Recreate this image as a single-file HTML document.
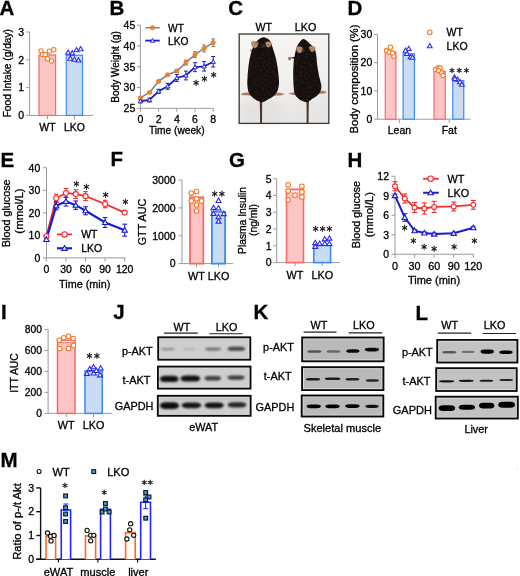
<!DOCTYPE html><html><head><meta charset="utf-8"><title>Figure</title><style>html,body{margin:0;padding:0;background:#fff;}svg{display:block;} text{stroke:#000;stroke-width:0.3px;}</style></head><body>
<svg width="520" height="576" viewBox="0 0 520 576" font-family='"Liberation Sans", Arial, sans-serif'>
<defs><filter id="bl" x="-20%" y="-80%" width="140%" height="260%"><feGaussianBlur stdDeviation="1.0"/></filter><filter id="bl2" x="-20%" y="-80%" width="140%" height="260%"><feGaussianBlur stdDeviation="0.7"/></filter><filter id="fur" x="0" y="0" width="100%" height="100%" color-interpolation-filters="sRGB"><feTurbulence type="fractalNoise" baseFrequency="0.45" numOctaves="2" seed="7" result="n"/><feColorMatrix in="n" type="matrix" values="0 0 0 0 0.2  0 0 0 0 0.15  0 0 0 0 0.13  1.5 0 0 0 -0.75" result="c"/><feComposite in="c" in2="SourceAlpha" operator="in"/></filter><filter id="ms" x="-10%" y="-10%" width="120%" height="120%"><feGaussianBlur stdDeviation="0.6"/></filter><filter id="sh" x="-20%" y="-20%" width="140%" height="140%"><feGaussianBlur stdDeviation="3"/></filter><linearGradient id="bg" x1="0" y1="0" x2="0.3" y2="1"><stop offset="0" stop-color="#f8f7f5"/><stop offset="0.6" stop-color="#f1f0ee"/><stop offset="1" stop-color="#e7e6e4"/></linearGradient></defs>
<rect width="520" height="576" fill="#fff"/>
<text x="-0.5" y="14.5" font-size="20.5" text-anchor="start" font-weight="bold" fill="#000" >A</text>
<line x1="29.6" y1="32" x2="29.6" y2="115.4" stroke="#9a9a9a" stroke-width="1" />
<line x1="26.1" y1="115.4" x2="29.6" y2="115.4" stroke="#9a9a9a" stroke-width="1" />
<text x="24" y="119.18" font-size="10.5" text-anchor="end" font-weight="normal" fill="#000" >0</text>
<line x1="26.1" y1="87.6" x2="29.6" y2="87.6" stroke="#9a9a9a" stroke-width="1" />
<text x="24" y="91.38" font-size="10.5" text-anchor="end" font-weight="normal" fill="#000" >1</text>
<line x1="26.1" y1="59.8" x2="29.6" y2="59.8" stroke="#9a9a9a" stroke-width="1" />
<text x="24" y="63.58" font-size="10.5" text-anchor="end" font-weight="normal" fill="#000" >2</text>
<line x1="26.1" y1="32" x2="29.6" y2="32" stroke="#9a9a9a" stroke-width="1" />
<text x="24" y="35.78" font-size="10.5" text-anchor="end" font-weight="normal" fill="#000" >3</text>
<line x1="29.6" y1="115.4" x2="93" y2="115.4" stroke="#9a9a9a" stroke-width="1" />
<line x1="47.5" y1="115.4" x2="47.5" y2="119.3" stroke="#9a9a9a" stroke-width="1" />
<line x1="74.4" y1="115.4" x2="74.4" y2="119.3" stroke="#9a9a9a" stroke-width="1" />
<rect x="39" y="55" width="16.6" height="60.4" fill="#fdc6c6" stroke="#f56b6b" stroke-width="1.2"/>
<rect x="66.25" y="55.25" width="16.25" height="60.15" fill="#c9dcf4" stroke="#3a8cf2" stroke-width="1.2"/>
<circle cx="41" cy="51" r="2.2" fill="#fff" stroke="#f77b28" stroke-width="1.1"/>
<circle cx="42.5" cy="54.4" r="2.2" fill="#fff" stroke="#f77b28" stroke-width="1.1"/>
<circle cx="45.25" cy="54.4" r="2.2" fill="#fff" stroke="#f77b28" stroke-width="1.1"/>
<circle cx="49.4" cy="51.25" r="2.2" fill="#fff" stroke="#f77b28" stroke-width="1.1"/>
<circle cx="53.75" cy="49.75" r="2.2" fill="#fff" stroke="#f77b28" stroke-width="1.1"/>
<circle cx="47.5" cy="58.75" r="2.2" fill="#fff" stroke="#f77b28" stroke-width="1.1"/>
<circle cx="51.5" cy="61" r="2.2" fill="#fff" stroke="#f77b28" stroke-width="1.1"/>
<polygon points="68.1,50.1 70.5,54.3 65.7,54.3" fill="#fff" stroke="#2b2bf0" stroke-width="1.1" stroke-linejoin="miter"/>
<polygon points="72.25,50.7 74.65,54.9 69.85,54.9" fill="#fff" stroke="#2b2bf0" stroke-width="1.1" stroke-linejoin="miter"/>
<polygon points="76.5,47.6 78.9,51.8 74.1,51.8" fill="#fff" stroke="#2b2bf0" stroke-width="1.1" stroke-linejoin="miter"/>
<polygon points="80.6,46.6 83,50.8 78.2,50.8" fill="#fff" stroke="#2b2bf0" stroke-width="1.1" stroke-linejoin="miter"/>
<polygon points="70.25,56.1 72.65,60.3 67.85,60.3" fill="#fff" stroke="#2b2bf0" stroke-width="1.1" stroke-linejoin="miter"/>
<polygon points="74.4,57 76.8,61.2 72,61.2" fill="#fff" stroke="#2b2bf0" stroke-width="1.1" stroke-linejoin="miter"/>
<polygon points="78.5,57.85 80.9,62.05 76.1,62.05" fill="#fff" stroke="#2b2bf0" stroke-width="1.1" stroke-linejoin="miter"/>
<text x="47.5" y="130.75" font-size="10.5" text-anchor="middle" font-weight="normal" fill="#000" >WT</text>
<text x="74.4" y="130.75" font-size="10.5" text-anchor="middle" font-weight="normal" fill="#000" >LKO</text>
<text transform="translate(10.5,73.2) rotate(-90)" font-size="10.2" text-anchor="middle" fill="#000">Food Intake (g/day)</text>
<text x="109.4" y="14.5" font-size="20.5" text-anchor="start" font-weight="bold" fill="#000" >B</text>
<line x1="140.4" y1="25.2" x2="140.4" y2="108.3" stroke="#9a9a9a" stroke-width="1" />
<line x1="136.9" y1="108.3" x2="140.4" y2="108.3" stroke="#9a9a9a" stroke-width="1" />
<text x="135.3" y="112.08" font-size="10.5" text-anchor="end" font-weight="normal" fill="#000" >25</text>
<line x1="136.9" y1="87.52" x2="140.4" y2="87.52" stroke="#9a9a9a" stroke-width="1" />
<text x="135.3" y="91.3" font-size="10.5" text-anchor="end" font-weight="normal" fill="#000" >30</text>
<line x1="136.9" y1="66.75" x2="140.4" y2="66.75" stroke="#9a9a9a" stroke-width="1" />
<text x="135.3" y="70.53" font-size="10.5" text-anchor="end" font-weight="normal" fill="#000" >35</text>
<line x1="136.9" y1="45.97" x2="140.4" y2="45.97" stroke="#9a9a9a" stroke-width="1" />
<text x="135.3" y="49.75" font-size="10.5" text-anchor="end" font-weight="normal" fill="#000" >40</text>
<line x1="136.9" y1="25.2" x2="140.4" y2="25.2" stroke="#9a9a9a" stroke-width="1" />
<text x="135.3" y="28.98" font-size="10.5" text-anchor="end" font-weight="normal" fill="#000" >45</text>
<line x1="140.4" y1="108.3" x2="213.4" y2="108.3" stroke="#9a9a9a" stroke-width="1" />
<line x1="140.4" y1="108.3" x2="140.4" y2="111.8" stroke="#9a9a9a" stroke-width="1" />
<text x="140.4" y="122.6" font-size="10.5" text-anchor="middle" font-weight="normal" fill="#000" >0</text>
<line x1="158.6" y1="108.3" x2="158.6" y2="111.8" stroke="#9a9a9a" stroke-width="1" />
<text x="158.6" y="122.6" font-size="10.5" text-anchor="middle" font-weight="normal" fill="#000" >2</text>
<line x1="176.8" y1="108.3" x2="176.8" y2="111.8" stroke="#9a9a9a" stroke-width="1" />
<text x="176.8" y="122.6" font-size="10.5" text-anchor="middle" font-weight="normal" fill="#000" >4</text>
<line x1="195" y1="108.3" x2="195" y2="111.8" stroke="#9a9a9a" stroke-width="1" />
<text x="195" y="122.6" font-size="10.5" text-anchor="middle" font-weight="normal" fill="#000" >6</text>
<line x1="213.2" y1="108.3" x2="213.2" y2="111.8" stroke="#9a9a9a" stroke-width="1" />
<text x="213.2" y="122.6" font-size="10.5" text-anchor="middle" font-weight="normal" fill="#000" >8</text>
<text x="176.8" y="134.1" font-size="10.2" text-anchor="middle" font-weight="normal" fill="#000" >Time (week)</text>
<text transform="translate(119.4,66.9) rotate(-90)" font-size="10" text-anchor="middle" fill="#000">Body Weight (g)</text>
<line x1="140.4" y1="97.41" x2="140.4" y2="98.41" stroke="#808080" stroke-width="1" />
<line x1="138.4" y1="97.41" x2="142.4" y2="97.41" stroke="#808080" stroke-width="1" />
<line x1="138.4" y1="98.41" x2="142.4" y2="98.41" stroke="#808080" stroke-width="1" />
<line x1="149.5" y1="92.01" x2="149.5" y2="93.01" stroke="#808080" stroke-width="1" />
<line x1="147.5" y1="92.01" x2="151.5" y2="92.01" stroke="#808080" stroke-width="1" />
<line x1="147.5" y1="93.01" x2="151.5" y2="93.01" stroke="#808080" stroke-width="1" />
<line x1="158.6" y1="80.29" x2="158.6" y2="82.29" stroke="#808080" stroke-width="1" />
<line x1="156.6" y1="80.29" x2="160.6" y2="80.29" stroke="#808080" stroke-width="1" />
<line x1="156.6" y1="82.29" x2="160.6" y2="82.29" stroke="#808080" stroke-width="1" />
<line x1="167.7" y1="73.77" x2="167.7" y2="75.77" stroke="#808080" stroke-width="1" />
<line x1="165.7" y1="73.77" x2="169.7" y2="73.77" stroke="#808080" stroke-width="1" />
<line x1="165.7" y1="75.77" x2="169.7" y2="75.77" stroke="#808080" stroke-width="1" />
<line x1="176.8" y1="69.49" x2="176.8" y2="72.49" stroke="#808080" stroke-width="1" />
<line x1="174.8" y1="69.49" x2="178.8" y2="69.49" stroke="#808080" stroke-width="1" />
<line x1="174.8" y1="72.49" x2="178.8" y2="72.49" stroke="#808080" stroke-width="1" />
<line x1="185.9" y1="60.09" x2="185.9" y2="65.09" stroke="#808080" stroke-width="1" />
<line x1="183.9" y1="60.09" x2="187.9" y2="60.09" stroke="#808080" stroke-width="1" />
<line x1="183.9" y1="65.09" x2="187.9" y2="65.09" stroke="#808080" stroke-width="1" />
<line x1="195" y1="51.7" x2="195" y2="57.7" stroke="#808080" stroke-width="1" />
<line x1="193" y1="51.7" x2="197" y2="51.7" stroke="#808080" stroke-width="1" />
<line x1="193" y1="57.7" x2="197" y2="57.7" stroke="#808080" stroke-width="1" />
<line x1="204.1" y1="44.97" x2="204.1" y2="51.97" stroke="#808080" stroke-width="1" />
<line x1="202.1" y1="44.97" x2="206.1" y2="44.97" stroke="#808080" stroke-width="1" />
<line x1="202.1" y1="51.97" x2="206.1" y2="51.97" stroke="#808080" stroke-width="1" />
<line x1="213.2" y1="38.9" x2="213.2" y2="46.4" stroke="#808080" stroke-width="1" />
<line x1="211.2" y1="38.9" x2="215.2" y2="38.9" stroke="#808080" stroke-width="1" />
<line x1="211.2" y1="46.4" x2="215.2" y2="46.4" stroke="#808080" stroke-width="1" />
<polyline points="140.4,97.91 149.5,92.51 158.6,81.29 167.7,74.77 176.8,70.99 185.9,62.59 195,54.7 204.1,48.47 213.2,42.65" fill="none" stroke="#808080" stroke-width="1.5"/>
<line x1="140.4" y1="99.74" x2="140.4" y2="102.74" stroke="#1c1cc8" stroke-width="1" />
<line x1="138.4" y1="99.74" x2="142.4" y2="99.74" stroke="#1c1cc8" stroke-width="1" />
<line x1="138.4" y1="102.74" x2="142.4" y2="102.74" stroke="#1c1cc8" stroke-width="1" />
<line x1="149.5" y1="97.99" x2="149.5" y2="101.99" stroke="#1c1cc8" stroke-width="1" />
<line x1="147.5" y1="97.99" x2="151.5" y2="97.99" stroke="#1c1cc8" stroke-width="1" />
<line x1="147.5" y1="101.99" x2="151.5" y2="101.99" stroke="#1c1cc8" stroke-width="1" />
<line x1="158.6" y1="89.26" x2="158.6" y2="93.26" stroke="#1c1cc8" stroke-width="1" />
<line x1="156.6" y1="89.26" x2="160.6" y2="89.26" stroke="#1c1cc8" stroke-width="1" />
<line x1="156.6" y1="93.26" x2="160.6" y2="93.26" stroke="#1c1cc8" stroke-width="1" />
<line x1="167.7" y1="83.28" x2="167.7" y2="89.28" stroke="#1c1cc8" stroke-width="1" />
<line x1="165.7" y1="83.28" x2="169.7" y2="83.28" stroke="#1c1cc8" stroke-width="1" />
<line x1="165.7" y1="89.28" x2="169.7" y2="89.28" stroke="#1c1cc8" stroke-width="1" />
<line x1="176.8" y1="74.47" x2="176.8" y2="81.47" stroke="#1c1cc8" stroke-width="1" />
<line x1="174.8" y1="74.47" x2="178.8" y2="74.47" stroke="#1c1cc8" stroke-width="1" />
<line x1="174.8" y1="81.47" x2="178.8" y2="81.47" stroke="#1c1cc8" stroke-width="1" />
<line x1="185.9" y1="71.08" x2="185.9" y2="79.88" stroke="#1c1cc8" stroke-width="1" />
<line x1="183.9" y1="71.08" x2="187.9" y2="71.08" stroke="#1c1cc8" stroke-width="1" />
<line x1="183.9" y1="79.88" x2="187.9" y2="79.88" stroke="#1c1cc8" stroke-width="1" />
<line x1="195" y1="62.67" x2="195" y2="71.67" stroke="#1c1cc8" stroke-width="1" />
<line x1="193" y1="62.67" x2="197" y2="62.67" stroke="#1c1cc8" stroke-width="1" />
<line x1="193" y1="71.67" x2="197" y2="71.67" stroke="#1c1cc8" stroke-width="1" />
<line x1="204.1" y1="61.63" x2="204.1" y2="71.03" stroke="#1c1cc8" stroke-width="1" />
<line x1="202.1" y1="61.63" x2="206.1" y2="61.63" stroke="#1c1cc8" stroke-width="1" />
<line x1="202.1" y1="71.03" x2="206.1" y2="71.03" stroke="#1c1cc8" stroke-width="1" />
<line x1="213.2" y1="56.51" x2="213.2" y2="67.01" stroke="#1c1cc8" stroke-width="1" />
<line x1="211.2" y1="56.51" x2="215.2" y2="56.51" stroke="#1c1cc8" stroke-width="1" />
<line x1="211.2" y1="67.01" x2="215.2" y2="67.01" stroke="#1c1cc8" stroke-width="1" />
<polyline points="140.4,101.24 149.5,99.99 158.6,91.26 167.7,86.28 176.8,77.97 185.9,75.48 195,67.17 204.1,66.33 213.2,61.76" fill="none" stroke="#1c1cc8" stroke-width="1.8"/>
<circle cx="140.4" cy="97.91" r="2.1" fill="#f58220" stroke="#e07010" stroke-width="0.6"/>
<circle cx="149.5" cy="92.51" r="2.1" fill="#f58220" stroke="#e07010" stroke-width="0.6"/>
<circle cx="158.6" cy="81.29" r="2.1" fill="#f58220" stroke="#e07010" stroke-width="0.6"/>
<circle cx="167.7" cy="74.77" r="2.1" fill="#f58220" stroke="#e07010" stroke-width="0.6"/>
<circle cx="176.8" cy="70.99" r="2.1" fill="#f58220" stroke="#e07010" stroke-width="0.6"/>
<circle cx="185.9" cy="62.59" r="2.1" fill="#f58220" stroke="#e07010" stroke-width="0.6"/>
<circle cx="195" cy="54.7" r="2.1" fill="#f58220" stroke="#e07010" stroke-width="0.6"/>
<circle cx="204.1" cy="48.47" r="2.1" fill="#f58220" stroke="#e07010" stroke-width="0.6"/>
<circle cx="213.2" cy="42.65" r="2.1" fill="#f58220" stroke="#e07010" stroke-width="0.6"/>
<polygon points="140.4,99.04 142.6,102.89 138.2,102.89" fill="#d8ecff" stroke="#1c1cc8" stroke-width="0.9" stroke-linejoin="miter"/>
<polygon points="149.5,97.79 151.7,101.64 147.3,101.64" fill="#d8ecff" stroke="#1c1cc8" stroke-width="0.9" stroke-linejoin="miter"/>
<polygon points="158.6,89.06 160.8,92.91 156.4,92.91" fill="#d8ecff" stroke="#1c1cc8" stroke-width="0.9" stroke-linejoin="miter"/>
<polygon points="167.7,84.08 169.9,87.93 165.5,87.93" fill="#d8ecff" stroke="#1c1cc8" stroke-width="0.9" stroke-linejoin="miter"/>
<polygon points="176.8,75.77 179,79.62 174.6,79.62" fill="#d8ecff" stroke="#1c1cc8" stroke-width="0.9" stroke-linejoin="miter"/>
<polygon points="185.9,73.28 188.1,77.13 183.7,77.13" fill="#d8ecff" stroke="#1c1cc8" stroke-width="0.9" stroke-linejoin="miter"/>
<polygon points="195,64.97 197.2,68.82 192.8,68.82" fill="#d8ecff" stroke="#1c1cc8" stroke-width="0.9" stroke-linejoin="miter"/>
<polygon points="204.1,64.13 206.3,67.98 201.9,67.98" fill="#d8ecff" stroke="#1c1cc8" stroke-width="0.9" stroke-linejoin="miter"/>
<polygon points="213.2,59.56 215.4,63.41 211,63.41" fill="#d8ecff" stroke="#1c1cc8" stroke-width="0.9" stroke-linejoin="miter"/>
<line x1="145.25" y1="27.75" x2="159.75" y2="27.75" stroke="#808080" stroke-width="1.5" />
<circle cx="152.5" cy="27.75" r="2.1" fill="#f58220" stroke="#e07010" stroke-width="0.6"/>
<line x1="145.25" y1="40.6" x2="159.75" y2="40.6" stroke="#1c1cc8" stroke-width="1.8" />
<polygon points="152.5,38.4 154.7,42.25 150.3,42.25" fill="#d8ecff" stroke="#1c1cc8" stroke-width="0.9" stroke-linejoin="miter"/>
<text x="168.1" y="31.6" font-size="10.2" text-anchor="start" font-weight="normal" fill="#000" >WT</text>
<text x="168.1" y="44.6" font-size="10.2" text-anchor="start" font-weight="normal" fill="#000" >LKO</text>
<text x="196.06" y="88.53" font-size="11.6" text-anchor="middle" font-family="DejaVu Sans, sans-serif" fill="#1a1a1a">*</text>
<text x="204.46" y="85.03" font-size="11.6" text-anchor="middle" font-family="DejaVu Sans, sans-serif" fill="#1a1a1a">*</text>
<text x="213.56" y="80.78" font-size="11.6" text-anchor="middle" font-family="DejaVu Sans, sans-serif" fill="#1a1a1a">*</text>
<text x="228.3" y="14.5" font-size="20.5" text-anchor="start" font-weight="bold" fill="#000" >C</text>
<text x="263.7" y="30.9" font-size="10.6" text-anchor="middle" font-weight="normal" fill="#000" >WT</text>
<text x="305.65" y="30.9" font-size="10.8" text-anchor="middle" font-weight="normal" fill="#000" >LKO</text>
<g id="photo">
<rect x="238.6" y="33.4" width="90.7" height="90.5" fill="url(#bg)"/>
<rect x="240" y="100" width="40" height="24" fill="#dedcda" opacity="0.45" filter="url(#sh)"/>
<g filter="url(#ms)">
<path d="M259.7,100 C260,108 260.2,116 260.1,123.6 L262,123.6 C262.1,116 262.1,108 262.2,100 Z" fill="#4e3226"/>
<path d="M306.4,100 C306.7,108 306.8,116 306.6,123.6 L308.5,123.6 C308.6,116 308.7,108 308.9,100 Z" fill="#4e3226"/>
<path d="M250,92.6 C246.5,92.6 243,92.8 240.6,93.9 C242,95.2 245,95.5 248,95.3 L251,96 Z" fill="#a87c62"/>
<path d="M274,92.6 C277.5,92.6 281.5,92.8 284.4,93.9 C283,95.3 279.5,95.5 276.5,95.4 L273,96.2 Z" fill="#a87c62"/>
<path d="M296,92.2 C293.5,92.2 290.5,92.5 288.6,93.6 C290,94.9 292.5,95.1 295,95 L297,95.6 Z" fill="#a87c62"/>
<path d="M319,90.8 C321.5,90.6 324.5,90.8 326.8,91.9 C325.3,93.4 322.5,93.8 320,93.7 L318.5,94 Z" fill="#a87c62"/>
<ellipse cx="251.5" cy="50.6" rx="1.5" ry="1.4" fill="#a87c62" opacity="0.85"/>
<ellipse cx="289.7" cy="58.6" rx="1.8" ry="1.8" fill="#a87c62"/>
<path d="M290.5,57.6 L295,59.5 L295,56.8 Z" fill="#3a2a24"/>
<path d="M263.7,37.2 C265.07,37.1 266.12,37.95 267.2,38.6 C268.28,39.25 269.25,39.45 270.2,41.1 C271.15,42.75 271.98,45.73 272.9,48.5 C273.82,51.27 274.93,54.63 275.7,57.7 C276.47,60.77 276.98,63.52 277.5,66.9 C278.02,70.28 278.58,74.92 278.8,78 C279.02,81.08 279.1,83.1 278.8,85.4 C278.5,87.7 277.98,89.95 277,91.8 C276.02,93.65 274.5,95.17 272.9,96.5 C271.3,97.83 269.08,98.85 267.4,99.8 C265.72,100.75 264.33,101.98 262.8,102.2 C261.27,102.42 259.9,101.9 258.2,101.1 C256.5,100.3 254.15,98.78 252.6,97.4 C251.05,96.02 249.77,94.8 248.9,92.8 C248.03,90.8 247.62,88.17 247.4,85.4 C247.18,82.63 247.35,79.9 247.6,76.2 C247.85,72.5 248.37,66.9 248.9,63.2 C249.43,59.5 250.25,56.3 250.8,54 C251.35,51.7 251.58,51.1 252.2,49.4 C252.82,47.7 253.37,45.5 254.5,43.8 C255.63,42.1 257.47,40.3 259,39.2 C260.53,38.1 262.33,37.3 263.7,37.2 Z" fill="#181110"/>
<path d="M303.4,39 C304.37,39.05 305.73,40 306.8,40.8 C307.87,41.6 308.52,42.52 309.8,43.8 C311.08,45.08 313.42,46.5 314.5,48.5 C315.58,50.5 315.85,53.03 316.3,55.8 C316.75,58.57 316.73,61.7 317.2,65.1 C317.67,68.5 318.42,72.82 319.1,76.2 C319.78,79.58 321.07,82.95 321.3,85.4 C321.53,87.85 321.18,89.22 320.5,90.9 C319.82,92.58 318.67,94.12 317.2,95.5 C315.73,96.88 313.38,98.08 311.7,99.2 C310.02,100.32 308.63,101.88 307.1,102.2 C305.57,102.52 304.05,101.82 302.5,101.1 C300.95,100.38 299.1,99.13 297.8,97.9 C296.5,96.67 295.4,95.78 294.7,93.7 C294,91.62 293.85,88.63 293.6,85.4 C293.35,82.17 293.2,78 293.2,74.3 C293.2,70.6 293.35,66.28 293.6,63.2 C293.85,60.12 294.3,58.1 294.7,55.8 C295.1,53.5 295.38,51.4 296,49.4 C296.62,47.4 297.57,45.28 298.4,43.8 C299.23,42.32 300.17,41.3 301,40.5 C301.83,39.7 302.43,38.95 303.4,39 Z" fill="#181110"/>
<path d="M250.8,42.5 C252,40.6 255.5,40.4 258.2,41.8 C258.8,44.2 257.6,47.4 255,48.4 C252.8,47.8 251,45.2 250.8,42.5 Z" fill="#b78d6a"/>
<path d="M265.5,42.4 C267.4,40.9 270.2,41.1 271.6,43 C271.8,45.3 270.4,47.4 268.2,47.6 C266.4,46.8 265.3,44.6 265.5,42.4 Z" fill="#b78d6a"/>
<path d="M296,47.8 C297.5,46 300.8,46 302.6,47.9 C302.9,50.3 301.6,52.8 299.4,53.2 C297.4,52.6 296,50.4 296,47.8 Z" fill="#b78d6a"/>
<path d="M308.9,47.2 C310.6,45.6 313.6,45.7 315.4,47.4 C315.6,49.6 314.2,51.6 312,51.9 C310.2,51.3 308.9,49.4 308.9,47.2 Z" fill="#b78d6a"/>
<path d="M263.7,37.2 C265.07,37.1 266.12,37.95 267.2,38.6 C268.28,39.25 269.25,39.45 270.2,41.1 C271.15,42.75 271.98,45.73 272.9,48.5 C273.82,51.27 274.93,54.63 275.7,57.7 C276.47,60.77 276.98,63.52 277.5,66.9 C278.02,70.28 278.58,74.92 278.8,78 C279.02,81.08 279.1,83.1 278.8,85.4 C278.5,87.7 277.98,89.95 277,91.8 C276.02,93.65 274.5,95.17 272.9,96.5 C271.3,97.83 269.08,98.85 267.4,99.8 C265.72,100.75 264.33,101.98 262.8,102.2 C261.27,102.42 259.9,101.9 258.2,101.1 C256.5,100.3 254.15,98.78 252.6,97.4 C251.05,96.02 249.77,94.8 248.9,92.8 C248.03,90.8 247.62,88.17 247.4,85.4 C247.18,82.63 247.35,79.9 247.6,76.2 C247.85,72.5 248.37,66.9 248.9,63.2 C249.43,59.5 250.25,56.3 250.8,54 C251.35,51.7 251.58,51.1 252.2,49.4 C252.82,47.7 253.37,45.5 254.5,43.8 C255.63,42.1 257.47,40.3 259,39.2 C260.53,38.1 262.33,37.3 263.7,37.2 Z" fill="#000" filter="url(#fur)"/>
<path d="M303.4,39 C304.37,39.05 305.73,40 306.8,40.8 C307.87,41.6 308.52,42.52 309.8,43.8 C311.08,45.08 313.42,46.5 314.5,48.5 C315.58,50.5 315.85,53.03 316.3,55.8 C316.75,58.57 316.73,61.7 317.2,65.1 C317.67,68.5 318.42,72.82 319.1,76.2 C319.78,79.58 321.07,82.95 321.3,85.4 C321.53,87.85 321.18,89.22 320.5,90.9 C319.82,92.58 318.67,94.12 317.2,95.5 C315.73,96.88 313.38,98.08 311.7,99.2 C310.02,100.32 308.63,101.88 307.1,102.2 C305.57,102.52 304.05,101.82 302.5,101.1 C300.95,100.38 299.1,99.13 297.8,97.9 C296.5,96.67 295.4,95.78 294.7,93.7 C294,91.62 293.85,88.63 293.6,85.4 C293.35,82.17 293.2,78 293.2,74.3 C293.2,70.6 293.35,66.28 293.6,63.2 C293.85,60.12 294.3,58.1 294.7,55.8 C295.1,53.5 295.38,51.4 296,49.4 C296.62,47.4 297.57,45.28 298.4,43.8 C299.23,42.32 300.17,41.3 301,40.5 C301.83,39.7 302.43,38.95 303.4,39 Z" fill="#000" filter="url(#fur)"/>
<ellipse cx="263" cy="46" rx="2.2" ry="1.8" fill="#6a5a54" opacity="0.4"/>
<ellipse cx="303" cy="50.5" rx="1.8" ry="1.5" fill="#6a5a54" opacity="0.4"/>
</g>
<rect x="239.2" y="34.0" width="89.6" height="89.4" fill="none" stroke="#383838" stroke-width="1.3"/>
</g>
<text x="347.4" y="14.5" font-size="20.5" text-anchor="start" font-weight="bold" fill="#000" >D</text>
<line x1="377.5" y1="34.45" x2="377.5" y2="119.2" stroke="#9a9a9a" stroke-width="1" />
<line x1="374" y1="119.2" x2="377.5" y2="119.2" stroke="#9a9a9a" stroke-width="1" />
<text x="372.3" y="122.98" font-size="10.5" text-anchor="end" font-weight="normal" fill="#000" >0</text>
<line x1="374" y1="90.95" x2="377.5" y2="90.95" stroke="#9a9a9a" stroke-width="1" />
<text x="372.3" y="94.73" font-size="10.5" text-anchor="end" font-weight="normal" fill="#000" >10</text>
<line x1="374" y1="62.7" x2="377.5" y2="62.7" stroke="#9a9a9a" stroke-width="1" />
<text x="372.3" y="66.48" font-size="10.5" text-anchor="end" font-weight="normal" fill="#000" >20</text>
<line x1="374" y1="34.45" x2="377.5" y2="34.45" stroke="#9a9a9a" stroke-width="1" />
<text x="372.3" y="38.23" font-size="10.5" text-anchor="end" font-weight="normal" fill="#000" >30</text>
<line x1="377.5" y1="119.2" x2="470.5" y2="119.2" stroke="#9a9a9a" stroke-width="1" />
<line x1="399.4" y1="119.2" x2="399.4" y2="123" stroke="#9a9a9a" stroke-width="1" />
<line x1="449.25" y1="119.2" x2="449.25" y2="123" stroke="#9a9a9a" stroke-width="1" />
<text x="399.4" y="134.1" font-size="10.5" text-anchor="middle" font-weight="normal" fill="#000" >Lean</text>
<text x="449.25" y="134.1" font-size="10.5" text-anchor="middle" font-weight="normal" fill="#000" >Fat</text>
<rect x="385.25" y="51.9" width="10.65" height="67.3" fill="#fdc6c6" stroke="#f56b6b" stroke-width="1.2"/>
<rect x="403.1" y="53.75" width="11.3" height="65.45" fill="#c9dcf4" stroke="#3a8cf2" stroke-width="1.2"/>
<rect x="434" y="71.25" width="11.25" height="47.95" fill="#fdc6c6" stroke="#f56b6b" stroke-width="1.2"/>
<rect x="452.75" y="80.6" width="11" height="38.6" fill="#c9dcf4" stroke="#3a8cf2" stroke-width="1.2"/>
<circle cx="386.5" cy="50.6" r="2.2" fill="#fff" stroke="#f77b28" stroke-width="1.1"/>
<circle cx="390.4" cy="47.25" r="2.2" fill="#fff" stroke="#f77b28" stroke-width="1.1"/>
<circle cx="389.4" cy="52.25" r="2.2" fill="#fff" stroke="#f77b28" stroke-width="1.1"/>
<circle cx="393.75" cy="56.25" r="2.2" fill="#fff" stroke="#f77b28" stroke-width="1.1"/>
<circle cx="392.5" cy="53.1" r="2.2" fill="#fff" stroke="#f77b28" stroke-width="1.1"/>
<polygon points="408.75,46.35 411.15,50.55 406.35,50.55" fill="#fff" stroke="#2b2bf0" stroke-width="1.1" stroke-linejoin="miter"/>
<polygon points="406.9,51.35 409.3,55.55 404.5,55.55" fill="#fff" stroke="#2b2bf0" stroke-width="1.1" stroke-linejoin="miter"/>
<polygon points="410.6,54.5 413,58.7 408.2,58.7" fill="#fff" stroke="#2b2bf0" stroke-width="1.1" stroke-linejoin="miter"/>
<polygon points="412.5,55.1 414.9,59.3 410.1,59.3" fill="#fff" stroke="#2b2bf0" stroke-width="1.1" stroke-linejoin="miter"/>
<polygon points="405.5,48.1 407.9,52.3 403.1,52.3" fill="#fff" stroke="#2b2bf0" stroke-width="1.1" stroke-linejoin="miter"/>
<circle cx="435.6" cy="69.4" r="2.2" fill="#fff" stroke="#f77b28" stroke-width="1.1"/>
<circle cx="438.1" cy="68.1" r="2.2" fill="#fff" stroke="#f77b28" stroke-width="1.1"/>
<circle cx="440" cy="68.1" r="2.2" fill="#fff" stroke="#f77b28" stroke-width="1.1"/>
<circle cx="441.25" cy="72.5" r="2.2" fill="#fff" stroke="#f77b28" stroke-width="1.1"/>
<circle cx="443.1" cy="75.6" r="2.2" fill="#fff" stroke="#f77b28" stroke-width="1.1"/>
<circle cx="438.5" cy="70.6" r="2.2" fill="#fff" stroke="#f77b28" stroke-width="1.1"/>
<polygon points="454.4,74.85 456.8,79.05 452,79.05" fill="#fff" stroke="#2b2bf0" stroke-width="1.1" stroke-linejoin="miter"/>
<polygon points="457.5,77 459.9,81.2 455.1,81.2" fill="#fff" stroke="#2b2bf0" stroke-width="1.1" stroke-linejoin="miter"/>
<polygon points="460,79.5 462.4,83.7 457.6,83.7" fill="#fff" stroke="#2b2bf0" stroke-width="1.1" stroke-linejoin="miter"/>
<polygon points="461.9,82 464.3,86.2 459.5,86.2" fill="#fff" stroke="#2b2bf0" stroke-width="1.1" stroke-linejoin="miter"/>
<polygon points="455,76.35 457.4,80.55 452.6,80.55" fill="#fff" stroke="#2b2bf0" stroke-width="1.1" stroke-linejoin="miter"/>
<circle cx="429.75" cy="32.25" r="2.3" fill="#fff" stroke="#f77b28" stroke-width="1.1"/>
<polygon points="429.75,43.6 432.15,47.8 427.35,47.8" fill="#fff" stroke="#2b2bf0" stroke-width="1.1" stroke-linejoin="miter"/>
<text x="446.6" y="36.3" font-size="10.5" text-anchor="start" font-weight="normal" fill="#000" >WT</text>
<text x="446.6" y="49.8" font-size="10.5" text-anchor="start" font-weight="normal" fill="#000" >LKO</text>
<text x="451.85" y="75.62" font-size="10.8" text-anchor="middle" font-family="DejaVu Sans, sans-serif" fill="#1a1a1a">*</text>
<text x="459.15" y="75.62" font-size="10.8" text-anchor="middle" font-family="DejaVu Sans, sans-serif" fill="#1a1a1a">*</text>
<text x="466.45" y="75.62" font-size="10.8" text-anchor="middle" font-family="DejaVu Sans, sans-serif" fill="#1a1a1a">*</text>
<text transform="translate(357.8,79) rotate(-90)" font-size="11.2" text-anchor="middle" fill="#000">Body composition (%)</text>
<text x="0.45" y="166.5" font-size="20.5" text-anchor="start" font-weight="bold" fill="#000" >E</text>
<line x1="46.5" y1="167.74" x2="46.5" y2="257.9" stroke="#9a9a9a" stroke-width="1" />
<line x1="43" y1="257.9" x2="46.5" y2="257.9" stroke="#9a9a9a" stroke-width="1" />
<text x="40.3" y="261.68" font-size="10.5" text-anchor="end" font-weight="normal" fill="#000" >0</text>
<line x1="43" y1="235.36" x2="46.5" y2="235.36" stroke="#9a9a9a" stroke-width="1" />
<text x="40.3" y="239.14" font-size="10.5" text-anchor="end" font-weight="normal" fill="#000" >10</text>
<line x1="43" y1="212.82" x2="46.5" y2="212.82" stroke="#9a9a9a" stroke-width="1" />
<text x="40.3" y="216.6" font-size="10.5" text-anchor="end" font-weight="normal" fill="#000" >20</text>
<line x1="43" y1="190.28" x2="46.5" y2="190.28" stroke="#9a9a9a" stroke-width="1" />
<text x="40.3" y="194.06" font-size="10.5" text-anchor="end" font-weight="normal" fill="#000" >30</text>
<line x1="43" y1="167.74" x2="46.5" y2="167.74" stroke="#9a9a9a" stroke-width="1" />
<text x="40.3" y="171.52" font-size="10.5" text-anchor="end" font-weight="normal" fill="#000" >40</text>
<line x1="46.5" y1="257.9" x2="125.5" y2="257.9" stroke="#9a9a9a" stroke-width="1" />
<line x1="46.4" y1="257.9" x2="46.4" y2="261.5" stroke="#9a9a9a" stroke-width="1" />
<text x="46.4" y="273.3" font-size="10.5" text-anchor="middle" font-weight="normal" fill="#000" >0</text>
<line x1="65.97" y1="257.9" x2="65.97" y2="261.5" stroke="#9a9a9a" stroke-width="1" />
<text x="65.97" y="273.3" font-size="10.5" text-anchor="middle" font-weight="normal" fill="#000" >30</text>
<line x1="85.55" y1="257.9" x2="85.55" y2="261.5" stroke="#9a9a9a" stroke-width="1" />
<text x="85.55" y="273.3" font-size="10.5" text-anchor="middle" font-weight="normal" fill="#000" >60</text>
<line x1="105.12" y1="257.9" x2="105.12" y2="261.5" stroke="#9a9a9a" stroke-width="1" />
<text x="105.12" y="273.3" font-size="10.5" text-anchor="middle" font-weight="normal" fill="#000" >90</text>
<line x1="124.7" y1="257.9" x2="124.7" y2="261.5" stroke="#9a9a9a" stroke-width="1" />
<text x="124.7" y="273.3" font-size="10.5" text-anchor="middle" font-weight="normal" fill="#000" >120</text>
<text x="84.7" y="287.6" font-size="10.8" text-anchor="middle" font-weight="normal" fill="#000" >Time (min)</text>
<text transform="translate(10.1,213.3) rotate(-90)" font-size="10.8" text-anchor="middle" fill="#000">Blood glucose</text>
<text transform="translate(22.8,211) rotate(-90)" font-size="11.5" text-anchor="middle" fill="#000">(mmol/L)</text>
<line x1="56.19" y1="194.28" x2="56.19" y2="202.28" stroke="#f52c2c" stroke-width="1.1" />
<line x1="53.89" y1="194.28" x2="58.49" y2="194.28" stroke="#f52c2c" stroke-width="1.1" />
<line x1="53.89" y1="202.28" x2="58.49" y2="202.28" stroke="#f52c2c" stroke-width="1.1" />
<line x1="65.97" y1="188.48" x2="65.97" y2="197.48" stroke="#f52c2c" stroke-width="1.1" />
<line x1="63.67" y1="188.48" x2="68.27" y2="188.48" stroke="#f52c2c" stroke-width="1.1" />
<line x1="63.67" y1="197.48" x2="68.27" y2="197.48" stroke="#f52c2c" stroke-width="1.1" />
<line x1="75.76" y1="189.71" x2="75.76" y2="198.51" stroke="#f52c2c" stroke-width="1.1" />
<line x1="73.46" y1="189.71" x2="78.06" y2="189.71" stroke="#f52c2c" stroke-width="1.1" />
<line x1="73.46" y1="198.51" x2="78.06" y2="198.51" stroke="#f52c2c" stroke-width="1.1" />
<line x1="85.55" y1="191.64" x2="85.55" y2="200.64" stroke="#f52c2c" stroke-width="1.1" />
<line x1="83.25" y1="191.64" x2="87.85" y2="191.64" stroke="#f52c2c" stroke-width="1.1" />
<line x1="83.25" y1="200.64" x2="87.85" y2="200.64" stroke="#f52c2c" stroke-width="1.1" />
<line x1="105.12" y1="200.28" x2="105.12" y2="207.78" stroke="#f52c2c" stroke-width="1.1" />
<line x1="102.83" y1="200.28" x2="107.42" y2="200.28" stroke="#f52c2c" stroke-width="1.1" />
<line x1="102.83" y1="207.78" x2="107.42" y2="207.78" stroke="#f52c2c" stroke-width="1.1" />
<line x1="124.7" y1="211.59" x2="124.7" y2="213.59" stroke="#f52c2c" stroke-width="1.1" />
<line x1="122.4" y1="211.59" x2="127" y2="211.59" stroke="#f52c2c" stroke-width="1.1" />
<line x1="122.4" y1="213.59" x2="127" y2="213.59" stroke="#f52c2c" stroke-width="1.1" />
<polyline points="46.4,236.26 56.19,198.28 65.97,192.98 75.76,194.11 85.55,196.14 105.12,204.03 124.7,212.59" fill="none" stroke="#f52c2c" stroke-width="1.8"/>
<line x1="46.4" y1="238.42" x2="46.4" y2="240.42" stroke="#1a1ad2" stroke-width="1.1" />
<line x1="44.1" y1="238.42" x2="48.7" y2="238.42" stroke="#1a1ad2" stroke-width="1.1" />
<line x1="44.1" y1="240.42" x2="48.7" y2="240.42" stroke="#1a1ad2" stroke-width="1.1" />
<line x1="56.19" y1="201.83" x2="56.19" y2="209.83" stroke="#1a1ad2" stroke-width="1.1" />
<line x1="53.89" y1="201.83" x2="58.49" y2="201.83" stroke="#1a1ad2" stroke-width="1.1" />
<line x1="53.89" y1="209.83" x2="58.49" y2="209.83" stroke="#1a1ad2" stroke-width="1.1" />
<line x1="65.97" y1="197.05" x2="65.97" y2="206.05" stroke="#1a1ad2" stroke-width="1.1" />
<line x1="63.67" y1="197.05" x2="68.27" y2="197.05" stroke="#1a1ad2" stroke-width="1.1" />
<line x1="63.67" y1="206.05" x2="68.27" y2="206.05" stroke="#1a1ad2" stroke-width="1.1" />
<line x1="75.76" y1="200.96" x2="75.76" y2="209.36" stroke="#1a1ad2" stroke-width="1.1" />
<line x1="73.46" y1="200.96" x2="78.06" y2="200.96" stroke="#1a1ad2" stroke-width="1.1" />
<line x1="73.46" y1="209.36" x2="78.06" y2="209.36" stroke="#1a1ad2" stroke-width="1.1" />
<line x1="85.55" y1="206.79" x2="85.55" y2="214.79" stroke="#1a1ad2" stroke-width="1.1" />
<line x1="83.25" y1="206.79" x2="87.85" y2="206.79" stroke="#1a1ad2" stroke-width="1.1" />
<line x1="83.25" y1="214.79" x2="87.85" y2="214.79" stroke="#1a1ad2" stroke-width="1.1" />
<line x1="105.12" y1="217.51" x2="105.12" y2="227.51" stroke="#1a1ad2" stroke-width="1.1" />
<line x1="102.83" y1="217.51" x2="107.42" y2="217.51" stroke="#1a1ad2" stroke-width="1.1" />
<line x1="102.83" y1="227.51" x2="107.42" y2="227.51" stroke="#1a1ad2" stroke-width="1.1" />
<line x1="124.7" y1="224.18" x2="124.7" y2="236.18" stroke="#1a1ad2" stroke-width="1.1" />
<line x1="122.4" y1="224.18" x2="127" y2="224.18" stroke="#1a1ad2" stroke-width="1.1" />
<line x1="122.4" y1="236.18" x2="127" y2="236.18" stroke="#1a1ad2" stroke-width="1.1" />
<polyline points="46.4,239.42 56.19,205.83 65.97,201.55 75.76,205.16 85.55,210.79 105.12,222.51 124.7,230.18" fill="none" stroke="#1a1ad2" stroke-width="2.2"/>
<circle cx="46.4" cy="236.26" r="2.5" fill="#fff" stroke="#f52c2c" stroke-width="1.1"/>
<circle cx="56.19" cy="198.28" r="2.5" fill="#fff" stroke="#f52c2c" stroke-width="1.1"/>
<circle cx="65.97" cy="192.98" r="2.5" fill="#fff" stroke="#f52c2c" stroke-width="1.1"/>
<circle cx="75.76" cy="194.11" r="2.5" fill="#fff" stroke="#f52c2c" stroke-width="1.1"/>
<circle cx="85.55" cy="196.14" r="2.5" fill="#fff" stroke="#f52c2c" stroke-width="1.1"/>
<circle cx="105.12" cy="204.03" r="2.5" fill="#fff" stroke="#f52c2c" stroke-width="1.1"/>
<circle cx="124.7" cy="212.59" r="2.5" fill="#fff" stroke="#f52c2c" stroke-width="1.1"/>
<polygon points="46.4,236.72 49.1,241.44 43.7,241.44" fill="#e0f0ff" stroke="#1a1ad2" stroke-width="1.1" stroke-linejoin="miter"/>
<polygon points="56.19,203.13 58.89,207.86 53.49,207.86" fill="#e0f0ff" stroke="#1a1ad2" stroke-width="1.1" stroke-linejoin="miter"/>
<polygon points="65.97,198.85 68.67,203.57 63.27,203.57" fill="#e0f0ff" stroke="#1a1ad2" stroke-width="1.1" stroke-linejoin="miter"/>
<polygon points="75.76,202.46 78.46,207.18 73.06,207.18" fill="#e0f0ff" stroke="#1a1ad2" stroke-width="1.1" stroke-linejoin="miter"/>
<polygon points="85.55,208.09 88.25,212.82 82.85,212.82" fill="#e0f0ff" stroke="#1a1ad2" stroke-width="1.1" stroke-linejoin="miter"/>
<polygon points="105.12,219.81 107.83,224.54 102.42,224.54" fill="#e0f0ff" stroke="#1a1ad2" stroke-width="1.1" stroke-linejoin="miter"/>
<polygon points="124.7,227.48 127.4,232.2 122,232.2" fill="#e0f0ff" stroke="#1a1ad2" stroke-width="1.1" stroke-linejoin="miter"/>
<text x="76.31" y="190.43" font-size="11.6" text-anchor="middle" font-family="DejaVu Sans, sans-serif" fill="#1a1a1a">*</text>
<text x="86.31" y="192.63" font-size="11.6" text-anchor="middle" font-family="DejaVu Sans, sans-serif" fill="#1a1a1a">*</text>
<text x="105.56" y="200.63" font-size="11.6" text-anchor="middle" font-family="DejaVu Sans, sans-serif" fill="#1a1a1a">*</text>
<text x="125.31" y="207.93" font-size="11.6" text-anchor="middle" font-family="DejaVu Sans, sans-serif" fill="#1a1a1a">*</text>
<line x1="57" y1="234.4" x2="72" y2="234.4" stroke="#f52c2c" stroke-width="1.8" />
<circle cx="64.5" cy="234.4" r="2.7" fill="#fff" stroke="#f52c2c" stroke-width="1.1"/>
<line x1="57" y1="248.3" x2="72" y2="248.3" stroke="#1a1ad2" stroke-width="2.2" />
<polygon points="64.5,245.6 67.2,250.33 61.8,250.33" fill="#e0f0ff" stroke="#1a1ad2" stroke-width="1.1" stroke-linejoin="miter"/>
<text x="81.2" y="238.2" font-size="10.5" text-anchor="start" font-weight="normal" fill="#000" >WT</text>
<text x="81.2" y="252.2" font-size="10.5" text-anchor="start" font-weight="normal" fill="#000" >LKO</text>
<text x="110.6" y="166.4" font-size="20.5" text-anchor="start" font-weight="bold" fill="#000" >F</text>
<line x1="182" y1="180.05" x2="182" y2="263.6" stroke="#9a9a9a" stroke-width="1" />
<line x1="178.5" y1="263.6" x2="182" y2="263.6" stroke="#9a9a9a" stroke-width="1" />
<text x="175.6" y="267.38" font-size="10.5" text-anchor="end" font-weight="normal" fill="#000" >0</text>
<line x1="178.5" y1="235.75" x2="182" y2="235.75" stroke="#9a9a9a" stroke-width="1" />
<text x="175.6" y="239.53" font-size="10.5" text-anchor="end" font-weight="normal" fill="#000" >1000</text>
<line x1="178.5" y1="207.9" x2="182" y2="207.9" stroke="#9a9a9a" stroke-width="1" />
<text x="175.6" y="211.68" font-size="10.5" text-anchor="end" font-weight="normal" fill="#000" >2000</text>
<line x1="178.5" y1="180.05" x2="182" y2="180.05" stroke="#9a9a9a" stroke-width="1" />
<text x="175.6" y="183.83" font-size="10.5" text-anchor="end" font-weight="normal" fill="#000" >3000</text>
<line x1="182" y1="263.6" x2="233.1" y2="263.6" stroke="#9a9a9a" stroke-width="1" />
<line x1="196.5" y1="263.6" x2="196.5" y2="267.3" stroke="#9a9a9a" stroke-width="1" />
<line x1="218.5" y1="263.6" x2="218.5" y2="267.3" stroke="#9a9a9a" stroke-width="1" />
<rect x="190" y="197.3" width="13.3" height="66.3" fill="#fdc6c6" stroke="#f56b6b" stroke-width="1.8"/>
<rect x="211.9" y="211.8" width="13.2" height="51.8" fill="#c9dcf4" stroke="#3a8cf2" stroke-width="1.8"/>
<line x1="191" y1="199.6" x2="202.3" y2="199.6" stroke="#fff" stroke-width="0.8" />
<line x1="212.9" y1="213.8" x2="224.1" y2="213.8" stroke="#fff" stroke-width="0.8" />
<circle cx="191.25" cy="193.1" r="2.3" fill="#fff" stroke="#f77b28" stroke-width="1.1"/>
<circle cx="196.5" cy="191.5" r="2.3" fill="#fff" stroke="#f77b28" stroke-width="1.1"/>
<circle cx="191.25" cy="201" r="2.3" fill="#fff" stroke="#f77b28" stroke-width="1.1"/>
<circle cx="196.5" cy="198.75" r="2.3" fill="#fff" stroke="#f77b28" stroke-width="1.1"/>
<circle cx="201.5" cy="201" r="2.3" fill="#fff" stroke="#f77b28" stroke-width="1.1"/>
<circle cx="196.5" cy="205" r="2.3" fill="#fff" stroke="#f77b28" stroke-width="1.1"/>
<circle cx="196.5" cy="211" r="2.3" fill="#fff" stroke="#f77b28" stroke-width="1.1"/>
<polygon points="218.5,198.1 221,202.47 216,202.47" fill="#fff" stroke="#2b2bf0" stroke-width="1.1" stroke-linejoin="miter"/>
<polygon points="213.5,205.25 216,209.62 211,209.62" fill="#fff" stroke="#2b2bf0" stroke-width="1.1" stroke-linejoin="miter"/>
<polygon points="218.5,205.6 221,209.97 216,209.97" fill="#fff" stroke="#2b2bf0" stroke-width="1.1" stroke-linejoin="miter"/>
<polygon points="213.5,211 216,215.38 211,215.38" fill="#fff" stroke="#2b2bf0" stroke-width="1.1" stroke-linejoin="miter"/>
<polygon points="223.75,211.25 226.25,215.62 221.25,215.62" fill="#fff" stroke="#2b2bf0" stroke-width="1.1" stroke-linejoin="miter"/>
<polygon points="218.5,214.4 221,218.78 216,218.78" fill="#fff" stroke="#2b2bf0" stroke-width="1.1" stroke-linejoin="miter"/>
<polygon points="218.5,218.75 221,223.12 216,223.12" fill="#fff" stroke="#2b2bf0" stroke-width="1.1" stroke-linejoin="miter"/>
<text x="196.5" y="279.5" font-size="10.8" text-anchor="middle" font-weight="normal" fill="#000" >WT</text>
<text x="218.6" y="279.5" font-size="10.8" text-anchor="middle" font-weight="normal" fill="#000" >LKO</text>
<text x="214.61" y="199.53" font-size="11.6" text-anchor="middle" font-family="DejaVu Sans, sans-serif" fill="#1a1a1a">*</text>
<text x="221.91" y="199.53" font-size="11.6" text-anchor="middle" font-family="DejaVu Sans, sans-serif" fill="#1a1a1a">*</text>
<text transform="translate(145.6,222) rotate(-90)" font-size="10.8" text-anchor="middle" fill="#000">GTT AUC</text>
<text x="228.9" y="166.7" font-size="20.5" text-anchor="start" font-weight="bold" fill="#000" >G</text>
<line x1="276.7" y1="178.75" x2="276.7" y2="262.6" stroke="#9a9a9a" stroke-width="1" />
<line x1="273.2" y1="262.6" x2="276.7" y2="262.6" stroke="#9a9a9a" stroke-width="1" />
<text x="271.5" y="266.38" font-size="10.5" text-anchor="end" font-weight="normal" fill="#000" >0</text>
<line x1="273.2" y1="245.83" x2="276.7" y2="245.83" stroke="#9a9a9a" stroke-width="1" />
<text x="271.5" y="249.61" font-size="10.5" text-anchor="end" font-weight="normal" fill="#000" >1</text>
<line x1="273.2" y1="229.06" x2="276.7" y2="229.06" stroke="#9a9a9a" stroke-width="1" />
<text x="271.5" y="232.84" font-size="10.5" text-anchor="end" font-weight="normal" fill="#000" >2</text>
<line x1="273.2" y1="212.29" x2="276.7" y2="212.29" stroke="#9a9a9a" stroke-width="1" />
<text x="271.5" y="216.07" font-size="10.5" text-anchor="end" font-weight="normal" fill="#000" >3</text>
<line x1="273.2" y1="195.52" x2="276.7" y2="195.52" stroke="#9a9a9a" stroke-width="1" />
<text x="271.5" y="199.3" font-size="10.5" text-anchor="end" font-weight="normal" fill="#000" >4</text>
<line x1="273.2" y1="178.75" x2="276.7" y2="178.75" stroke="#9a9a9a" stroke-width="1" />
<text x="271.5" y="182.53" font-size="10.5" text-anchor="end" font-weight="normal" fill="#000" >5</text>
<line x1="276.7" y1="262.6" x2="340" y2="262.6" stroke="#9a9a9a" stroke-width="1" />
<line x1="295" y1="262.6" x2="295" y2="266" stroke="#9a9a9a" stroke-width="1" />
<line x1="322.25" y1="262.6" x2="322.25" y2="266" stroke="#9a9a9a" stroke-width="1" />
<rect x="286.5" y="189.3" width="17" height="73.3" fill="#fdc6c6" stroke="#f56b6b" stroke-width="1.6"/>
<rect x="313.75" y="245.5" width="16.85" height="17.1" fill="#c9dcf4" stroke="#3a8cf2" stroke-width="1.6"/>
<line x1="287.5" y1="191.3" x2="302.5" y2="191.3" stroke="#fff" stroke-width="0.9" />
<circle cx="288.1" cy="184.75" r="2.3" fill="#fff" stroke="#f77b28" stroke-width="1.1"/>
<circle cx="288.1" cy="191" r="2.3" fill="#fff" stroke="#f77b28" stroke-width="1.1"/>
<circle cx="288.1" cy="200" r="2.3" fill="#fff" stroke="#f77b28" stroke-width="1.1"/>
<circle cx="295" cy="195.25" r="2.3" fill="#fff" stroke="#f77b28" stroke-width="1.1"/>
<circle cx="301.9" cy="186.25" r="2.3" fill="#fff" stroke="#f77b28" stroke-width="1.1"/>
<circle cx="301.9" cy="191.9" r="2.3" fill="#fff" stroke="#f77b28" stroke-width="1.1"/>
<circle cx="301.9" cy="196.9" r="2.3" fill="#fff" stroke="#f77b28" stroke-width="1.1"/>
<polygon points="315.25,240.25 317.75,244.62 312.75,244.62" fill="#fff" stroke="#2b2bf0" stroke-width="1.1" stroke-linejoin="miter"/>
<polygon points="315.25,244 317.75,248.38 312.75,248.38" fill="#fff" stroke="#2b2bf0" stroke-width="1.1" stroke-linejoin="miter"/>
<polygon points="319.6,241 322.1,245.38 317.1,245.38" fill="#fff" stroke="#2b2bf0" stroke-width="1.1" stroke-linejoin="miter"/>
<polygon points="324.75,236.5 327.25,240.88 322.25,240.88" fill="#fff" stroke="#2b2bf0" stroke-width="1.1" stroke-linejoin="miter"/>
<polygon points="324.75,241.1 327.25,245.47 322.25,245.47" fill="#fff" stroke="#2b2bf0" stroke-width="1.1" stroke-linejoin="miter"/>
<polygon points="329.4,235.75 331.9,240.12 326.9,240.12" fill="#fff" stroke="#2b2bf0" stroke-width="1.1" stroke-linejoin="miter"/>
<polygon points="329.4,241.1 331.9,245.47 326.9,245.47" fill="#fff" stroke="#2b2bf0" stroke-width="1.1" stroke-linejoin="miter"/>
<text x="295" y="278.6" font-size="10.8" text-anchor="middle" font-weight="normal" fill="#000" >WT</text>
<text x="322.3" y="278.6" font-size="10.8" text-anchor="middle" font-weight="normal" fill="#000" >LKO</text>
<text x="315.76" y="234.78" font-size="11.6" text-anchor="middle" font-family="DejaVu Sans, sans-serif" fill="#1a1a1a">*</text>
<text x="322.56" y="234.78" font-size="11.6" text-anchor="middle" font-family="DejaVu Sans, sans-serif" fill="#1a1a1a">*</text>
<text x="329.36" y="234.78" font-size="11.6" text-anchor="middle" font-family="DejaVu Sans, sans-serif" fill="#1a1a1a">*</text>
<text transform="translate(245.6,220.5) rotate(-90)" font-size="10.3" text-anchor="middle" fill="#000">Plasma Insulin</text>
<text transform="translate(256.6,220) rotate(-90)" font-size="10.3" text-anchor="middle" fill="#000">(ng/ml)</text>
<text x="347.4" y="166.5" font-size="20.5" text-anchor="start" font-weight="bold" fill="#000" >H</text>
<line x1="395" y1="176.25" x2="395" y2="254.25" stroke="#9a9a9a" stroke-width="1" />
<line x1="391.5" y1="254.25" x2="395" y2="254.25" stroke="#9a9a9a" stroke-width="1" />
<text x="389" y="258.03" font-size="10.5" text-anchor="end" font-weight="normal" fill="#000" >0</text>
<line x1="391.5" y1="234.75" x2="395" y2="234.75" stroke="#9a9a9a" stroke-width="1" />
<text x="389" y="238.53" font-size="10.5" text-anchor="end" font-weight="normal" fill="#000" >3</text>
<line x1="391.5" y1="215.25" x2="395" y2="215.25" stroke="#9a9a9a" stroke-width="1" />
<text x="389" y="219.03" font-size="10.5" text-anchor="end" font-weight="normal" fill="#000" >6</text>
<line x1="391.5" y1="195.75" x2="395" y2="195.75" stroke="#9a9a9a" stroke-width="1" />
<text x="389" y="199.53" font-size="10.5" text-anchor="end" font-weight="normal" fill="#000" >9</text>
<line x1="391.5" y1="176.25" x2="395" y2="176.25" stroke="#9a9a9a" stroke-width="1" />
<text x="389" y="180.03" font-size="10.5" text-anchor="end" font-weight="normal" fill="#000" >12</text>
<line x1="395" y1="254.25" x2="473.5" y2="254.25" stroke="#9a9a9a" stroke-width="1" />
<line x1="395" y1="254.25" x2="395" y2="257.8" stroke="#9a9a9a" stroke-width="1" />
<text x="395" y="269.75" font-size="10.8" text-anchor="middle" font-weight="normal" fill="#000" >0</text>
<line x1="414.57" y1="254.25" x2="414.57" y2="257.8" stroke="#9a9a9a" stroke-width="1" />
<text x="414.57" y="269.75" font-size="10.8" text-anchor="middle" font-weight="normal" fill="#000" >30</text>
<line x1="434.15" y1="254.25" x2="434.15" y2="257.8" stroke="#9a9a9a" stroke-width="1" />
<text x="434.15" y="269.75" font-size="10.8" text-anchor="middle" font-weight="normal" fill="#000" >60</text>
<line x1="453.73" y1="254.25" x2="453.73" y2="257.8" stroke="#9a9a9a" stroke-width="1" />
<text x="453.73" y="269.75" font-size="10.8" text-anchor="middle" font-weight="normal" fill="#000" >90</text>
<line x1="473.3" y1="254.25" x2="473.3" y2="257.8" stroke="#9a9a9a" stroke-width="1" />
<text x="473.3" y="269.75" font-size="10.8" text-anchor="middle" font-weight="normal" fill="#000" >120</text>
<text x="434" y="283.65" font-size="11" text-anchor="middle" font-weight="normal" fill="#000" >Time (min)</text>
<text transform="translate(359.7,214.6) rotate(-90)" font-size="10.7" text-anchor="middle" fill="#000">Blood glucose</text>
<text transform="translate(372.9,214.6) rotate(-90)" font-size="11.5" text-anchor="middle" fill="#000">(mmol/L)</text>
<line x1="395" y1="181.76" x2="395" y2="190.76" stroke="#f52c2c" stroke-width="1.1" />
<line x1="392.5" y1="181.76" x2="397.5" y2="181.76" stroke="#f52c2c" stroke-width="1.1" />
<line x1="392.5" y1="190.76" x2="397.5" y2="190.76" stroke="#f52c2c" stroke-width="1.1" />
<line x1="404.79" y1="193.98" x2="404.79" y2="202.98" stroke="#f52c2c" stroke-width="1.1" />
<line x1="402.29" y1="193.98" x2="407.29" y2="193.98" stroke="#f52c2c" stroke-width="1.1" />
<line x1="402.29" y1="202.98" x2="407.29" y2="202.98" stroke="#f52c2c" stroke-width="1.1" />
<line x1="414.57" y1="202.51" x2="414.57" y2="212.51" stroke="#f52c2c" stroke-width="1.1" />
<line x1="412.07" y1="202.51" x2="417.07" y2="202.51" stroke="#f52c2c" stroke-width="1.1" />
<line x1="412.07" y1="212.51" x2="417.07" y2="212.51" stroke="#f52c2c" stroke-width="1.1" />
<line x1="424.36" y1="202.89" x2="424.36" y2="214.09" stroke="#f52c2c" stroke-width="1.1" />
<line x1="421.86" y1="202.89" x2="426.86" y2="202.89" stroke="#f52c2c" stroke-width="1.1" />
<line x1="421.86" y1="214.09" x2="426.86" y2="214.09" stroke="#f52c2c" stroke-width="1.1" />
<line x1="434.15" y1="201.33" x2="434.15" y2="212.53" stroke="#f52c2c" stroke-width="1.1" />
<line x1="431.65" y1="201.33" x2="436.65" y2="201.33" stroke="#f52c2c" stroke-width="1.1" />
<line x1="431.65" y1="212.53" x2="436.65" y2="212.53" stroke="#f52c2c" stroke-width="1.1" />
<line x1="453.73" y1="202.07" x2="453.73" y2="210.88" stroke="#f52c2c" stroke-width="1.1" />
<line x1="451.23" y1="202.07" x2="456.23" y2="202.07" stroke="#f52c2c" stroke-width="1.1" />
<line x1="451.23" y1="210.88" x2="456.23" y2="210.88" stroke="#f52c2c" stroke-width="1.1" />
<line x1="473.3" y1="200.45" x2="473.3" y2="209.25" stroke="#f52c2c" stroke-width="1.1" />
<line x1="470.8" y1="200.45" x2="475.8" y2="200.45" stroke="#f52c2c" stroke-width="1.1" />
<line x1="470.8" y1="209.25" x2="475.8" y2="209.25" stroke="#f52c2c" stroke-width="1.1" />
<polyline points="395,186.26 404.79,198.48 414.57,207.51 424.36,208.49 434.15,206.93 453.73,206.47 473.3,204.85" fill="none" stroke="#f52c2c" stroke-width="1.8"/>
<line x1="395" y1="194.12" x2="395" y2="197.12" stroke="#1a1ad2" stroke-width="1.1" />
<line x1="392.5" y1="194.12" x2="397.5" y2="194.12" stroke="#1a1ad2" stroke-width="1.1" />
<line x1="392.5" y1="197.12" x2="397.5" y2="197.12" stroke="#1a1ad2" stroke-width="1.1" />
<line x1="404.79" y1="213.78" x2="404.79" y2="221.28" stroke="#1a1ad2" stroke-width="1.1" />
<line x1="402.29" y1="213.78" x2="407.29" y2="213.78" stroke="#1a1ad2" stroke-width="1.1" />
<line x1="402.29" y1="221.28" x2="407.29" y2="221.28" stroke="#1a1ad2" stroke-width="1.1" />
<line x1="414.57" y1="229.66" x2="414.57" y2="231.66" stroke="#1a1ad2" stroke-width="1.1" />
<line x1="412.07" y1="229.66" x2="417.07" y2="229.66" stroke="#1a1ad2" stroke-width="1.1" />
<line x1="412.07" y1="231.66" x2="417.07" y2="231.66" stroke="#1a1ad2" stroke-width="1.1" />
<line x1="424.36" y1="232" x2="424.36" y2="234" stroke="#1a1ad2" stroke-width="1.1" />
<line x1="421.86" y1="232" x2="426.86" y2="232" stroke="#1a1ad2" stroke-width="1.1" />
<line x1="421.86" y1="234" x2="426.86" y2="234" stroke="#1a1ad2" stroke-width="1.1" />
<line x1="434.15" y1="233.1" x2="434.15" y2="235.1" stroke="#1a1ad2" stroke-width="1.1" />
<line x1="431.65" y1="233.1" x2="436.65" y2="233.1" stroke="#1a1ad2" stroke-width="1.1" />
<line x1="431.65" y1="235.1" x2="436.65" y2="235.1" stroke="#1a1ad2" stroke-width="1.1" />
<line x1="453.73" y1="232.32" x2="453.73" y2="234.32" stroke="#1a1ad2" stroke-width="1.1" />
<line x1="451.23" y1="232.32" x2="456.23" y2="232.32" stroke="#1a1ad2" stroke-width="1.1" />
<line x1="451.23" y1="234.32" x2="456.23" y2="234.32" stroke="#1a1ad2" stroke-width="1.1" />
<line x1="473.3" y1="226.73" x2="473.3" y2="228.73" stroke="#1a1ad2" stroke-width="1.1" />
<line x1="470.8" y1="226.73" x2="475.8" y2="226.73" stroke="#1a1ad2" stroke-width="1.1" />
<line x1="470.8" y1="228.73" x2="475.8" y2="228.73" stroke="#1a1ad2" stroke-width="1.1" />
<polyline points="395,195.62 404.79,217.53 414.57,230.66 424.36,233 434.15,234.1 453.73,233.32 473.3,227.73" fill="none" stroke="#1a1ad2" stroke-width="2.0"/>
<circle cx="395" cy="186.26" r="2.4" fill="#fff" stroke="#f52c2c" stroke-width="1.1"/>
<circle cx="404.79" cy="198.48" r="2.4" fill="#fff" stroke="#f52c2c" stroke-width="1.1"/>
<circle cx="414.57" cy="207.51" r="2.4" fill="#fff" stroke="#f52c2c" stroke-width="1.1"/>
<circle cx="424.36" cy="208.49" r="2.4" fill="#fff" stroke="#f52c2c" stroke-width="1.1"/>
<circle cx="434.15" cy="206.93" r="2.4" fill="#fff" stroke="#f52c2c" stroke-width="1.1"/>
<circle cx="453.73" cy="206.47" r="2.4" fill="#fff" stroke="#f52c2c" stroke-width="1.1"/>
<circle cx="473.3" cy="204.85" r="2.4" fill="#fff" stroke="#f52c2c" stroke-width="1.1"/>
<polygon points="395,192.92 397.7,197.65 392.3,197.65" fill="#e0f0ff" stroke="#1a1ad2" stroke-width="1.1" stroke-linejoin="miter"/>
<polygon points="404.79,214.83 407.49,219.55 402.09,219.55" fill="#e0f0ff" stroke="#1a1ad2" stroke-width="1.1" stroke-linejoin="miter"/>
<polygon points="414.57,227.96 417.27,232.68 411.88,232.68" fill="#e0f0ff" stroke="#1a1ad2" stroke-width="1.1" stroke-linejoin="miter"/>
<polygon points="424.36,230.3 427.06,235.02 421.66,235.02" fill="#e0f0ff" stroke="#1a1ad2" stroke-width="1.1" stroke-linejoin="miter"/>
<polygon points="434.15,231.4 436.85,236.12 431.45,236.12" fill="#e0f0ff" stroke="#1a1ad2" stroke-width="1.1" stroke-linejoin="miter"/>
<polygon points="453.73,230.62 456.43,235.34 451.03,235.34" fill="#e0f0ff" stroke="#1a1ad2" stroke-width="1.1" stroke-linejoin="miter"/>
<polygon points="473.3,225.03 476,229.75 470.6,229.75" fill="#e0f0ff" stroke="#1a1ad2" stroke-width="1.1" stroke-linejoin="miter"/>
<text x="404.56" y="234.13" font-size="11.6" text-anchor="middle" font-family="DejaVu Sans, sans-serif" fill="#1a1a1a">*</text>
<text x="413.36" y="247.23" font-size="11.6" text-anchor="middle" font-family="DejaVu Sans, sans-serif" fill="#1a1a1a">*</text>
<text x="424.16" y="252.93" font-size="11.6" text-anchor="middle" font-family="DejaVu Sans, sans-serif" fill="#1a1a1a">*</text>
<text x="434.26" y="254.53" font-size="11.6" text-anchor="middle" font-family="DejaVu Sans, sans-serif" fill="#1a1a1a">*</text>
<text x="454.26" y="252.93" font-size="11.6" text-anchor="middle" font-family="DejaVu Sans, sans-serif" fill="#1a1a1a">*</text>
<text x="474.36" y="246.83" font-size="11.6" text-anchor="middle" font-family="DejaVu Sans, sans-serif" fill="#1a1a1a">*</text>
<line x1="423.1" y1="178.75" x2="438.75" y2="178.75" stroke="#f52c2c" stroke-width="1.8" />
<circle cx="430.6" cy="178.75" r="2.7" fill="#fff" stroke="#f52c2c" stroke-width="1.1"/>
<line x1="423.1" y1="192.75" x2="438.75" y2="192.75" stroke="#1a1ad2" stroke-width="2.0" />
<polygon points="430.6,190.05 433.3,194.78 427.9,194.78" fill="#e0f0ff" stroke="#1a1ad2" stroke-width="1.1" stroke-linejoin="miter"/>
<text x="447.5" y="182.6" font-size="10.8" text-anchor="start" font-weight="normal" fill="#000" >WT</text>
<text x="447.5" y="196.6" font-size="10.8" text-anchor="start" font-weight="normal" fill="#000" >LKO</text>
<text x="0.9" y="319" font-size="20.5" text-anchor="start" font-weight="bold" fill="#000" >I</text>
<line x1="48.1" y1="329.4" x2="48.1" y2="413.4" stroke="#9a9a9a" stroke-width="1" />
<line x1="44.6" y1="413.4" x2="48.1" y2="413.4" stroke="#9a9a9a" stroke-width="1" />
<text x="41.9" y="417.11" font-size="10.3" text-anchor="end" font-weight="normal" fill="#000" >0</text>
<line x1="44.6" y1="392.4" x2="48.1" y2="392.4" stroke="#9a9a9a" stroke-width="1" />
<text x="41.9" y="396.11" font-size="10.3" text-anchor="end" font-weight="normal" fill="#000" >200</text>
<line x1="44.6" y1="371.4" x2="48.1" y2="371.4" stroke="#9a9a9a" stroke-width="1" />
<text x="41.9" y="375.11" font-size="10.3" text-anchor="end" font-weight="normal" fill="#000" >400</text>
<line x1="44.6" y1="350.4" x2="48.1" y2="350.4" stroke="#9a9a9a" stroke-width="1" />
<text x="41.9" y="354.11" font-size="10.3" text-anchor="end" font-weight="normal" fill="#000" >600</text>
<line x1="44.6" y1="329.4" x2="48.1" y2="329.4" stroke="#9a9a9a" stroke-width="1" />
<text x="41.9" y="333.11" font-size="10.3" text-anchor="end" font-weight="normal" fill="#000" >800</text>
<line x1="48.1" y1="413.4" x2="111.7" y2="413.4" stroke="#9a9a9a" stroke-width="1" />
<line x1="66.25" y1="413.4" x2="66.25" y2="417" stroke="#9a9a9a" stroke-width="1" />
<line x1="93.6" y1="413.4" x2="93.6" y2="417" stroke="#9a9a9a" stroke-width="1" />
<rect x="57.5" y="340.3" width="17.5" height="73.1" fill="#fdc6c6" stroke="#f56b6b" stroke-width="1.5"/>
<rect x="85" y="371" width="17.25" height="42.4" fill="#c9dcf4" stroke="#3a8cf2" stroke-width="1.5"/>
<line x1="58.5" y1="341.6" x2="74" y2="341.6" stroke="#fff" stroke-width="0.8" />
<line x1="58.5" y1="342.7" x2="74" y2="342.7" stroke="#f56b6b" stroke-width="0.9" />
<circle cx="59.4" cy="340.25" r="2.3" fill="#fff" stroke="#f77b28" stroke-width="1.1"/>
<circle cx="63.75" cy="337.75" r="2.3" fill="#fff" stroke="#f77b28" stroke-width="1.1"/>
<circle cx="68.5" cy="336.25" r="2.3" fill="#fff" stroke="#f77b28" stroke-width="1.1"/>
<circle cx="73.1" cy="338.5" r="2.3" fill="#fff" stroke="#f77b28" stroke-width="1.1"/>
<circle cx="59.75" cy="348.5" r="2.3" fill="#fff" stroke="#f77b28" stroke-width="1.1"/>
<circle cx="68.5" cy="348.5" r="2.3" fill="#fff" stroke="#f77b28" stroke-width="1.1"/>
<circle cx="73.5" cy="345.6" r="2.3" fill="#fff" stroke="#f77b28" stroke-width="1.1"/>
<polygon points="86.9,371 89.4,375.38 84.4,375.38" fill="#fff" stroke="#2b2bf0" stroke-width="1.1" stroke-linejoin="miter"/>
<polygon points="89.75,366.25 92.25,370.62 87.25,370.62" fill="#fff" stroke="#2b2bf0" stroke-width="1.1" stroke-linejoin="miter"/>
<polygon points="93.5,364.4 96,368.77 91,368.77" fill="#fff" stroke="#2b2bf0" stroke-width="1.1" stroke-linejoin="miter"/>
<polygon points="93.75,370.6 96.25,374.98 91.25,374.98" fill="#fff" stroke="#2b2bf0" stroke-width="1.1" stroke-linejoin="miter"/>
<polygon points="96.25,368.1 98.75,372.48 93.75,372.48" fill="#fff" stroke="#2b2bf0" stroke-width="1.1" stroke-linejoin="miter"/>
<polygon points="100.6,365.6 103.1,369.98 98.1,369.98" fill="#fff" stroke="#2b2bf0" stroke-width="1.1" stroke-linejoin="miter"/>
<polygon points="100,372.5 102.5,376.88 97.5,376.88" fill="#fff" stroke="#2b2bf0" stroke-width="1.1" stroke-linejoin="miter"/>
<text x="66.25" y="429" font-size="10.8" text-anchor="middle" font-weight="normal" fill="#000" >WT</text>
<text x="93.6" y="429" font-size="10.8" text-anchor="middle" font-weight="normal" fill="#000" >LKO</text>
<text x="89.51" y="361.63" font-size="11.6" text-anchor="middle" font-family="DejaVu Sans, sans-serif" fill="#1a1a1a">*</text>
<text x="96.81" y="361.63" font-size="11.6" text-anchor="middle" font-family="DejaVu Sans, sans-serif" fill="#1a1a1a">*</text>
<text transform="translate(18.1,373) rotate(-90)" font-size="10.4" text-anchor="middle" fill="#000">ITT AUC</text>
<text x="113.2" y="319.3" font-size="20.5" text-anchor="start" font-weight="bold" fill="#000" >J</text>
<text x="181.9" y="330.9" font-size="10.8" text-anchor="middle" font-weight="normal" fill="#000" >WT</text>
<text x="226.5" y="330.9" font-size="10.8" text-anchor="middle" font-weight="normal" fill="#000" >LKO</text>
<line x1="164" y1="333.1" x2="197.75" y2="333.1" stroke="#222" stroke-width="1.2" />
<line x1="209.4" y1="333.75" x2="242.75" y2="333.75" stroke="#222" stroke-width="1.2" />
<rect x="157.3" y="336.4" width="93.9" height="24.2" fill="#cecece"/>
<rect x="159.6" y="338.7" width="89.3" height="19.6" fill="none" stroke="#dedede" stroke-width="0.9"/>
<g filter="url(#bl)">
<rect x="160.7" y="348" width="14.1" height="2.2" rx="3.95" ry="1.1" fill="#000" fill-opacity="0.33"/>
<rect x="182.3" y="348.4" width="13.2" height="1.8" rx="3.7" ry="0.9" fill="#000" fill-opacity="0.14"/>
<rect x="205" y="347.7" width="16" height="2.8" rx="4.48" ry="1.4" fill="#000" fill-opacity="0.5"/>
<rect x="227.6" y="346.8" width="17.5" height="4" rx="4.9" ry="2" fill="#000" fill-opacity="0.68"/>
</g>
<rect x="158.2" y="337.3" width="92.1" height="22.4" fill="none" stroke="#0a0a0a" stroke-width="1.8"/>
<rect x="157" y="365.7" width="94.4" height="23.8" fill="#cecece"/>
<rect x="159.3" y="368" width="89.8" height="19.2" fill="none" stroke="#dedede" stroke-width="0.9"/>
<g filter="url(#bl)">
<rect x="159.9" y="375.7" width="18.7" height="6.4" rx="5.24" ry="3.2" fill="#000" fill-opacity="0.92"/>
<rect x="180.6" y="375.4" width="19.6" height="6.2" rx="5.49" ry="3.1" fill="#000" fill-opacity="0.92"/>
<rect x="204.6" y="376" width="16.4" height="4.6" rx="4.59" ry="2.3" fill="#000" fill-opacity="0.7"/>
<rect x="227.6" y="375.4" width="16.9" height="4.4" rx="4.73" ry="2.2" fill="#000" fill-opacity="0.72"/>
</g>
<rect x="157.9" y="366.6" width="92.6" height="22" fill="none" stroke="#0a0a0a" stroke-width="1.8"/>
<rect x="156.9" y="394.9" width="94.6" height="21.8" fill="#cecece"/>
<rect x="159.2" y="397.2" width="90" height="17.2" fill="none" stroke="#dedede" stroke-width="0.9"/>
<g filter="url(#bl)">
<rect x="159.9" y="402.2" width="19.2" height="6.8" rx="5.38" ry="3.4" fill="#000" fill-opacity="0.95"/>
<rect x="181.6" y="402.4" width="19.6" height="5.8" rx="5.49" ry="2.9" fill="#000" fill-opacity="0.9"/>
<rect x="204.6" y="402.4" width="19.2" height="5.8" rx="5.38" ry="2.9" fill="#000" fill-opacity="0.92"/>
<rect x="227.6" y="402.2" width="18.8" height="5.2" rx="5.26" ry="2.6" fill="#000" fill-opacity="0.82"/>
<rect x="159" y="397.7" width="91" height="1.8" rx="25.48" ry="0.9" fill="#000" fill-opacity="0.12"/>
</g>
<rect x="157.8" y="395.8" width="92.8" height="20" fill="none" stroke="#0a0a0a" stroke-width="1.8"/>
<text x="121.9" y="355" font-size="10.9" text-anchor="start" font-weight="normal" fill="#000" >p-AKT</text>
<text x="122.5" y="384" font-size="10.9" text-anchor="start" font-weight="normal" fill="#000" >t-AKT</text>
<text x="114.75" y="410.25" font-size="10.9" text-anchor="start" font-weight="normal" fill="#000" >GAPDH</text>
<text x="203.6" y="431" font-size="10.8" text-anchor="middle" font-weight="normal" fill="#000" >eWAT</text>
<text x="253.4" y="319.3" font-size="20.5" text-anchor="start" font-weight="bold" fill="#000" >K</text>
<text x="319" y="328.7" font-size="10.8" text-anchor="middle" font-weight="normal" fill="#000" >WT</text>
<text x="363.8" y="328.7" font-size="10.8" text-anchor="middle" font-weight="normal" fill="#000" >LKO</text>
<line x1="303.6" y1="332.2" x2="336.5" y2="332.2" stroke="#222" stroke-width="1.2" />
<line x1="348.7" y1="332.8" x2="382.2" y2="332.8" stroke="#222" stroke-width="1.2" />
<rect x="301.3" y="336.6" width="83.2" height="25.6" fill="#b9b9b9"/>
<rect x="303.6" y="338.9" width="78.6" height="21" fill="none" stroke="#dedede" stroke-width="0.9"/>
<g filter="url(#bl2)">
<rect x="307.4" y="350.25" width="14.1" height="2.5" rx="3.95" ry="1.25" fill="#000" fill-opacity="0.55"/>
<rect x="326.5" y="350.3" width="14" height="2.4" rx="3.92" ry="1.2" fill="#000" fill-opacity="0.45"/>
<rect x="346.3" y="349.2" width="13.2" height="3.6" rx="3.7" ry="1.8" fill="#000" fill-opacity="0.95"/>
<rect x="364.8" y="347.8" width="14.2" height="3.6" rx="3.98" ry="1.8" fill="#000" fill-opacity="0.95"/>
</g>
<rect x="302.2" y="337.5" width="81.4" height="23.8" fill="none" stroke="#0a0a0a" stroke-width="1.8"/>
<rect x="301.2" y="366.3" width="83.1" height="24.7" fill="#b9b9b9"/>
<rect x="303.5" y="368.6" width="78.5" height="20.1" fill="none" stroke="#dedede" stroke-width="0.9"/>
<g filter="url(#bl2)">
<rect x="305.8" y="378" width="14.4" height="2.6" rx="4.03" ry="1.3" fill="#000" fill-opacity="0.85"/>
<rect x="324.8" y="377.5" width="15.7" height="2.6" rx="4.4" ry="1.3" fill="#000" fill-opacity="0.85"/>
<rect x="345.5" y="378.1" width="14" height="2.4" rx="3.92" ry="1.2" fill="#000" fill-opacity="0.82"/>
<rect x="365.8" y="379.3" width="13.2" height="2.4" rx="3.7" ry="1.2" fill="#000" fill-opacity="0.8"/>
</g>
<rect x="302.1" y="367.2" width="81.3" height="22.9" fill="none" stroke="#0a0a0a" stroke-width="1.8"/>
<rect x="300.8" y="394.6" width="83.4" height="22.8" fill="#b9b9b9"/>
<rect x="303.1" y="396.9" width="78.8" height="18.2" fill="none" stroke="#dedede" stroke-width="0.9"/>
<g filter="url(#bl2)">
<rect x="306.7" y="404.4" width="14.2" height="3.8" rx="3.98" ry="1.9" fill="#000" fill-opacity="1"/>
<rect x="325.4" y="404.4" width="14.3" height="3.8" rx="4" ry="1.9" fill="#000" fill-opacity="1"/>
<rect x="345.2" y="404.3" width="14.4" height="3.6" rx="4.03" ry="1.8" fill="#000" fill-opacity="1"/>
<rect x="365.4" y="404.7" width="13.3" height="3.2" rx="3.72" ry="1.6" fill="#000" fill-opacity="0.92"/>
</g>
<rect x="301.7" y="395.5" width="81.6" height="21" fill="none" stroke="#0a0a0a" stroke-width="1.8"/>
<text x="263.1" y="350.6" font-size="10.9" text-anchor="start" font-weight="normal" fill="#000" >p-AKT</text>
<text x="263.75" y="379.75" font-size="10.9" text-anchor="start" font-weight="normal" fill="#000" >t-AKT</text>
<text x="255.6" y="411" font-size="10.9" text-anchor="start" font-weight="normal" fill="#000" >GAPDH</text>
<text x="303.5" y="432.3" font-size="11.1" text-anchor="start" font-weight="normal" fill="#000" >Skeletal muscle</text>
<text x="415.5" y="319.5" font-size="20.5" text-anchor="start" font-weight="bold" fill="#000" >L</text>
<text x="449.7" y="328.5" font-size="10.8" text-anchor="middle" font-weight="normal" fill="#000" >WT</text>
<text x="494.5" y="328.7" font-size="10.8" text-anchor="middle" font-weight="normal" fill="#000" >LKO</text>
<line x1="437.7" y1="333.1" x2="471.2" y2="333.1" stroke="#222" stroke-width="1.2" />
<line x1="482.6" y1="333.5" x2="516" y2="333.5" stroke="#222" stroke-width="1.2" />
<rect x="436.3" y="339" width="82" height="24.4" fill="#c2c2c2"/>
<rect x="438.6" y="341.3" width="77.4" height="19.8" fill="none" stroke="#dedede" stroke-width="0.9"/>
<g filter="url(#bl2)">
<rect x="442.3" y="350.95" width="14" height="2.5" rx="3.92" ry="1.25" fill="#000" fill-opacity="0.55"/>
<rect x="461.8" y="350.8" width="12.7" height="2.2" rx="3.56" ry="1.1" fill="#000" fill-opacity="0.42"/>
<rect x="480.6" y="349.5" width="13.3" height="4.2" rx="3.72" ry="2.1" fill="#000" fill-opacity="1"/>
<rect x="499.3" y="350.5" width="13.3" height="3.4" rx="3.72" ry="1.7" fill="#000" fill-opacity="1"/>
</g>
<rect x="437.2" y="339.9" width="80.2" height="22.6" fill="none" stroke="#0a0a0a" stroke-width="1.8"/>
<rect x="435.3" y="367.3" width="82.3" height="24.6" fill="#c2c2c2"/>
<rect x="437.6" y="369.6" width="77.7" height="20" fill="none" stroke="#dedede" stroke-width="0.9"/>
<g filter="url(#bl2)">
<rect x="439" y="380.15" width="15.2" height="2.3" rx="4.26" ry="1.15" fill="#000" fill-opacity="0.9"/>
<rect x="458.8" y="379.7" width="14.9" height="2.2" rx="4.17" ry="1.1" fill="#000" fill-opacity="0.88"/>
<rect x="479.5" y="379.75" width="13.7" height="2.1" rx="3.84" ry="1.05" fill="#000" fill-opacity="0.85"/>
<rect x="499.3" y="379" width="13.7" height="2" rx="3.84" ry="1" fill="#000" fill-opacity="0.82"/>
</g>
<rect x="436.2" y="368.2" width="80.5" height="22.8" fill="none" stroke="#0a0a0a" stroke-width="1.8"/>
<rect x="434.8" y="395.8" width="83.9" height="23.6" fill="#c2c2c2"/>
<rect x="437.1" y="398.1" width="79.3" height="19" fill="none" stroke="#dedede" stroke-width="0.9"/>
<g filter="url(#bl2)">
<rect x="438.6" y="405.2" width="16.6" height="5.8" rx="4.65" ry="2.9" fill="#000" fill-opacity="1"/>
<rect x="458.8" y="404.8" width="16.2" height="5" rx="4.54" ry="2.5" fill="#000" fill-opacity="1"/>
<rect x="479" y="402.7" width="15.4" height="5.8" rx="4.31" ry="2.9" fill="#000" fill-opacity="1"/>
<rect x="498.2" y="401.8" width="16.8" height="6" rx="4.7" ry="3" fill="#000" fill-opacity="1"/>
</g>
<rect x="435.7" y="396.7" width="82.1" height="21.8" fill="none" stroke="#0a0a0a" stroke-width="1.8"/>
<text x="401.9" y="355.6" font-size="10.9" text-anchor="start" font-weight="normal" fill="#000" >p-AKT</text>
<text x="402.5" y="384.75" font-size="10.9" text-anchor="start" font-weight="normal" fill="#000" >t-AKT</text>
<text x="392.75" y="413.75" font-size="11" text-anchor="start" font-weight="normal" fill="#000" >GAPDH</text>
<text x="464.4" y="433.1" font-size="10.9" text-anchor="start" font-weight="normal" fill="#000" >Liver</text>
<text x="0.5" y="466.7" font-size="20.5" text-anchor="start" font-weight="bold" fill="#000" >M</text>
<line x1="40.6" y1="487.9" x2="40.6" y2="559.3" stroke="#111" stroke-width="1.4" />
<line x1="36.3" y1="559.3" x2="40.6" y2="559.3" stroke="#111" stroke-width="1.4" />
<text x="34.2" y="563.08" font-size="10.5" text-anchor="end" font-weight="normal" fill="#000" >0</text>
<line x1="36.3" y1="535.5" x2="40.6" y2="535.5" stroke="#111" stroke-width="1.4" />
<text x="34.2" y="539.28" font-size="10.5" text-anchor="end" font-weight="normal" fill="#000" >1</text>
<line x1="36.3" y1="511.7" x2="40.6" y2="511.7" stroke="#111" stroke-width="1.4" />
<text x="34.2" y="515.48" font-size="10.5" text-anchor="end" font-weight="normal" fill="#000" >2</text>
<line x1="36.3" y1="487.9" x2="40.6" y2="487.9" stroke="#111" stroke-width="1.4" />
<text x="34.2" y="491.68" font-size="10.5" text-anchor="end" font-weight="normal" fill="#000" >3</text>
<line x1="36.3" y1="559.3" x2="155.8" y2="559.3" stroke="#111" stroke-width="1.4" />
<line x1="58.5" y1="559.3" x2="58.5" y2="562.5" stroke="#111" stroke-width="1.2" />
<line x1="97.9" y1="559.3" x2="97.9" y2="562.5" stroke="#111" stroke-width="1.2" />
<line x1="137.6" y1="559.3" x2="137.6" y2="562.5" stroke="#111" stroke-width="1.2" />
<path d="M46,559.3 L46,536.5 L55.6,536.5 L55.6,559.3" fill="#fff" stroke="#ff6a1e" stroke-width="1.6"/>
<path d="M61.25,559.3 L61.25,510 L70.6,510 L70.6,559.3" fill="#fff" stroke="#2424ff" stroke-width="1.6"/>
<path d="M85.5,559.3 L85.5,535.9 L95.6,535.9 L95.6,559.3" fill="#fff" stroke="#ff6a1e" stroke-width="1.6"/>
<path d="M100.6,559.3 L100.6,509.2 L110.4,509.2 L110.4,559.3" fill="#fff" stroke="#2424ff" stroke-width="1.6"/>
<path d="M125.6,559.3 L125.6,532.6 L135.2,532.6 L135.2,559.3" fill="#fff" stroke="#ff6a1e" stroke-width="1.6"/>
<path d="M140.7,559.3 L140.7,502.2 L150.5,502.2 L150.5,559.3" fill="#fff" stroke="#2424ff" stroke-width="1.6"/>
<line x1="65.9" y1="504" x2="65.9" y2="510" stroke="#2424ff" stroke-width="1" />
<line x1="63.4" y1="504" x2="68.4" y2="504" stroke="#2424ff" stroke-width="1" />
<line x1="63.4" y1="510" x2="68.4" y2="510" stroke="#2424ff" stroke-width="1" />
<line x1="145.6" y1="495.8" x2="145.6" y2="508.6" stroke="#2424ff" stroke-width="1" />
<line x1="143.1" y1="495.8" x2="148.1" y2="495.8" stroke="#2424ff" stroke-width="1" />
<line x1="143.1" y1="508.6" x2="148.1" y2="508.6" stroke="#2424ff" stroke-width="1" />
<circle cx="47.5" cy="533" r="2.1" fill="#fff" stroke="#111" stroke-width="1.1"/>
<circle cx="50.6" cy="536.25" r="2.1" fill="#fff" stroke="#111" stroke-width="1.1"/>
<circle cx="54.1" cy="535.5" r="2.1" fill="#fff" stroke="#111" stroke-width="1.1"/>
<circle cx="51" cy="540.9" r="2.1" fill="#fff" stroke="#111" stroke-width="1.1"/>
<circle cx="87.1" cy="530.4" r="2.1" fill="#fff" stroke="#111" stroke-width="1.1"/>
<circle cx="90.7" cy="535.3" r="2.1" fill="#fff" stroke="#111" stroke-width="1.1"/>
<circle cx="93.8" cy="535.3" r="2.1" fill="#fff" stroke="#111" stroke-width="1.1"/>
<circle cx="90.7" cy="540.8" r="2.1" fill="#fff" stroke="#111" stroke-width="1.1"/>
<circle cx="130.6" cy="523.7" r="2.1" fill="#fff" stroke="#111" stroke-width="1.1"/>
<circle cx="129.7" cy="529.8" r="2.1" fill="#fff" stroke="#111" stroke-width="1.1"/>
<circle cx="126.9" cy="539" r="2.1" fill="#fff" stroke="#111" stroke-width="1.1"/>
<circle cx="133.7" cy="535.3" r="2.1" fill="#fff" stroke="#111" stroke-width="1.1"/>
<rect x="63.7" y="494" width="3.8" height="3.8" fill="#3aa0e8" stroke="#111" stroke-width="1.1"/>
<rect x="63.7" y="505.85" width="3.8" height="3.8" fill="#3aa0e8" stroke="#111" stroke-width="1.1"/>
<rect x="63.7" y="512.1" width="3.8" height="3.8" fill="#3aa0e8" stroke="#111" stroke-width="1.1"/>
<rect x="63.7" y="519.6" width="3.8" height="3.8" fill="#3aa0e8" stroke="#111" stroke-width="1.1"/>
<rect x="103.5" y="501.6" width="3.8" height="3.8" fill="#3aa0e8" stroke="#111" stroke-width="1.1"/>
<rect x="100.2" y="510.1" width="3.8" height="3.8" fill="#3aa0e8" stroke="#111" stroke-width="1.1"/>
<rect x="103.5" y="507.1" width="3.8" height="3.8" fill="#3aa0e8" stroke="#111" stroke-width="1.1"/>
<rect x="107.2" y="510.1" width="3.8" height="3.8" fill="#3aa0e8" stroke="#111" stroke-width="1.1"/>
<rect x="143.8" y="490.6" width="3.8" height="3.8" fill="#3aa0e8" stroke="#111" stroke-width="1.1"/>
<rect x="147.1" y="495.1" width="3.8" height="3.8" fill="#3aa0e8" stroke="#111" stroke-width="1.1"/>
<rect x="143.8" y="497.9" width="3.8" height="3.8" fill="#3aa0e8" stroke="#111" stroke-width="1.1"/>
<rect x="143.8" y="516.3" width="3.8" height="3.8" fill="#3aa0e8" stroke="#111" stroke-width="1.1"/>
<text x="65.06" y="491.32" font-size="11" text-anchor="middle" font-family="DejaVu Sans, sans-serif" fill="#1a1a1a">*</text>
<text x="104.36" y="498.22" font-size="11" text-anchor="middle" font-family="DejaVu Sans, sans-serif" fill="#1a1a1a">*</text>
<text x="144.2" y="488.22" font-size="11" text-anchor="middle" font-family="DejaVu Sans, sans-serif" fill="#1a1a1a">*</text>
<text x="150.3" y="488.22" font-size="11" text-anchor="middle" font-family="DejaVu Sans, sans-serif" fill="#1a1a1a">*</text>
<circle cx="39.1" cy="471.5" r="2" fill="#fff" stroke="#111" stroke-width="1.1"/>
<rect x="91.85" y="469.7" width="3.8" height="3.8" fill="#3aa0e8" stroke="#111" stroke-width="1.1"/>
<text x="52.5" y="475.6" font-size="11.1" text-anchor="start" font-weight="normal" fill="#000" >WT</text>
<text x="107.2" y="475.6" font-size="11.1" text-anchor="start" font-weight="normal" fill="#000" >LKO</text>
<text x="58.5" y="575.6" font-size="11.1" text-anchor="middle" font-weight="normal" fill="#000" >eWAT</text>
<text x="97.9" y="575.6" font-size="11.1" text-anchor="middle" font-weight="normal" fill="#000" >muscle</text>
<text x="138.3" y="575.6" font-size="11.1" text-anchor="middle" font-weight="normal" fill="#000" >liver</text>
<text transform="translate(20.6,521.5) rotate(-90)" font-size="11.2" text-anchor="middle" fill="#000">Ratio of p-/t Akt</text>
<circle cx="517.2" cy="468.7" r="1.3" fill="#f0f0f0"/>
</svg></body></html>
